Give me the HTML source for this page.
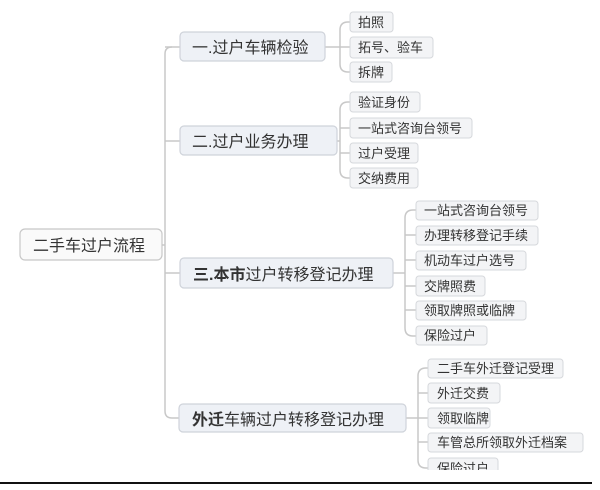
<!DOCTYPE html>
<html><head><meta charset="utf-8"><style>
html,body{margin:0;padding:0;background:#fff;}
svg text{font-family:"Liberation Sans","Noto Sans CJK SC",sans-serif;fill:#333;}
</style></head><body>
<svg width="600" height="485" viewBox="0 0 600 485" xmlns="http://www.w3.org/2000/svg">
<g fill="none" stroke="#c8c8c8" stroke-width="1.5">
<path d="M162 245 H165 M172 47 Q165 47 165 54 V411 Q165 418 172 418 H179"/>
<path d="M165 47 H180 M165 141 H180 M165 273 H180"/>
<path d="M325 47 H340 M348 22 Q340 22 340 30 V64 Q340 72 348 72 H350 M340 47 H350 M348 22 H350"/>
<path d="M337 141 H340 M348 102 Q340 102 340 110 V170 Q340 178 348 178 H350 M340 128 H350 M340 153 H350 M348 102 H350"/>
<path d="M393 273 H405 M413 210 Q405 210 405 218 V328 Q405 336 413 336 H416 M405 235 H416 M405 260 H416 M405 286 H416 M405 310 H416 M413 210 H416"/>
<path d="M406 418 H418 M426 368 Q418 368 418 376 V460 Q418 468 426 468 H428 M418 393 H428 M418 418 H428 M418 442 H428 M426 368 H428"/>
</g>
<g stroke="#cfd3da" stroke-width="1.2">
<rect x="20" y="229" width="142" height="31" rx="5" fill="#fafafa" stroke="#c8c8c8"/>
<rect x="180" y="32" width="145" height="29" rx="4" fill="#eef1f6"/>
<rect x="180" y="126" width="157" height="29" rx="4" fill="#eef1f6"/>
<rect x="180" y="258" width="213" height="30" rx="4" fill="#eef1f6"/>
<rect x="179" y="404" width="227" height="28" rx="4" fill="#eef1f6"/>
</g>
<g fill="#f3f4f6" stroke="#d6d8dc" stroke-width="1">
<rect x="350" y="12" width="43" height="20" rx="3"/>
<rect x="350" y="37" width="83" height="21" rx="3"/>
<rect x="350" y="62" width="42" height="20" rx="3"/>
<rect x="350" y="92" width="70" height="20" rx="3"/>
<rect x="350" y="118" width="122" height="20" rx="3"/>
<rect x="350" y="143" width="68" height="20" rx="3"/>
<rect x="350" y="168" width="68" height="20" rx="3"/>
<rect x="416" y="201" width="122" height="19" rx="3"/>
<rect x="416" y="226" width="122" height="19" rx="3"/>
<rect x="416" y="251" width="110" height="19" rx="3"/>
<rect x="416" y="276" width="69" height="20" rx="3"/>
<rect x="416" y="301" width="110" height="19" rx="3"/>
<rect x="416" y="326" width="71" height="19" rx="3"/>
<rect x="428" y="359" width="135" height="19" rx="3"/>
<rect x="428" y="383" width="72" height="20" rx="3"/>
<rect x="428" y="408" width="62" height="20" rx="3"/>
<rect x="428" y="433" width="155" height="19" rx="3"/>
<rect x="428" y="458" width="70" height="19" rx="3"/>
</g>
<text x="33" y="251" font-size="16">二手车过户流程</text>
<text x="192" y="53" font-size="16">一.过户车辆检验</text>
<text x="192" y="147" font-size="16">二.过户业务办理</text>
<text x="193" y="280" font-size="16"><tspan font-weight="bold">三.本市</tspan>过户转移登记办理</text>
<text x="192" y="425" font-size="16"><tspan font-weight="bold">外迁</tspan>车辆过户转移登记办理</text>
<g font-size="13">
<text x="358" y="27">拍照</text>
<text x="358" y="52">拓号、验车</text>
<text x="358" y="77">拆牌</text>
<text x="358" y="107">验证身份</text>
<text x="358" y="133">一站式咨询台领号</text>
<text x="358" y="158">过户受理</text>
<text x="358" y="183">交纳费用</text>
<text x="424" y="215">一站式咨询台领号</text>
<text x="424" y="240">办理转移登记手续</text>
<text x="424" y="265">机动车过户选号</text>
<text x="424" y="291">交牌照费</text>
<text x="424" y="315">领取牌照或临牌</text>
<text x="424" y="340">保险过户</text>
<text x="437" y="373">二手车外迁登记受理</text>
<text x="437" y="398">外迁交费</text>
<text x="437" y="423">领取临牌</text>
<text x="437" y="447">车管总所领取外迁档案</text>
<text x="437" y="473">保险过户</text>
</g>
<rect x="0" y="470" width="600" height="12" fill="#fff"/>
<rect x="0" y="482" width="592" height="2" fill="#111"/>
</svg>
</body></html>
